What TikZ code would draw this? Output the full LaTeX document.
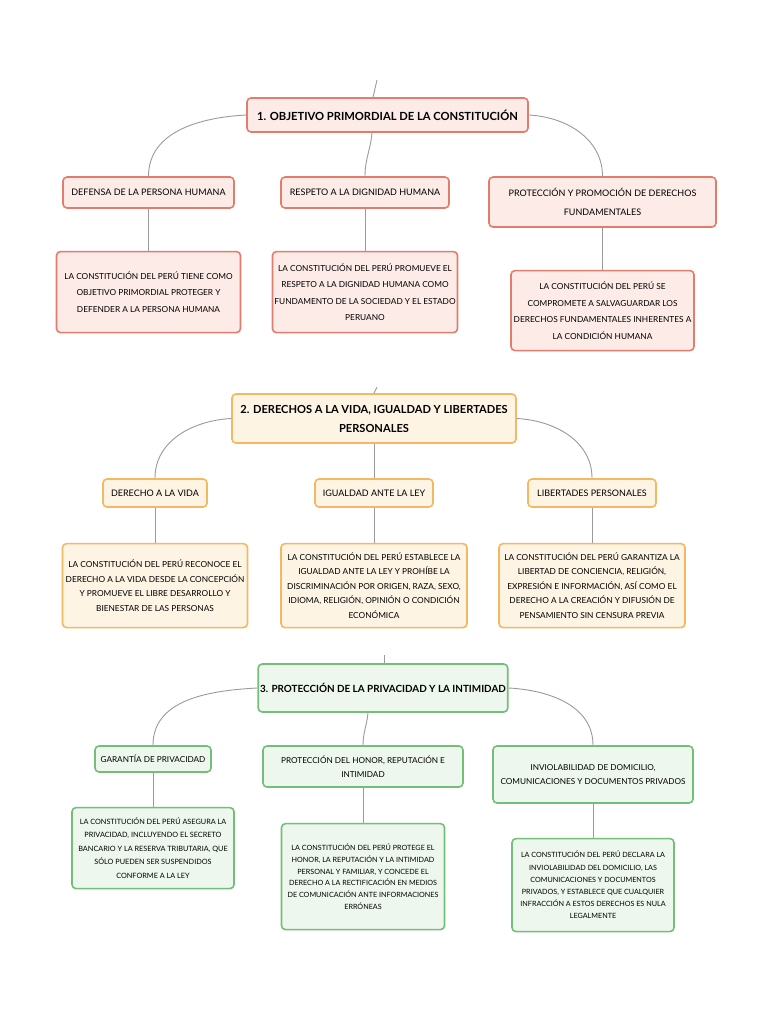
\documentclass[tikz,border=0pt]{standalone}
\usepackage{fontspec}
\setmainfont{Lato}
\usetikzlibrary{
  calc,
  positioning
}
\definecolor{rojoborde}{HTML}{E27D6E}
\definecolor{rojofondo}{HTML}{FCEBE6}
\definecolor{naranjaborde}{HTML}{F3B862}
\definecolor{naranjafondo}{HTML}{FEF4E3}
\definecolor{verdeborde}{HTML}{74BF78}
\definecolor{verdefondo}{HTML}{EEF7EE}
\definecolor{linea}{HTML}{9A9A9A}

\begin{document}
\begin{tikzpicture}[x=1pt,y=-1pt,
    caja/.style={draw,rounded corners=4pt,line width=1.6pt,align=center,inner sep=2pt,text=black},
    rojo/.style={caja,draw=rojoborde,fill=rojofondo},
    naranja/.style={caja,draw=naranjaborde,fill=naranjafondo},
    verde/.style={caja,draw=verdeborde,fill=verdefondo},
    titulo/.style={font=\fontsize{#1}{19}\selectfont\bfseries},
    rama/.style={draw=linea,line width=0.9pt}]
  \useasboundingbox[fill=white] (0,0) rectangle (768,1024);

  % 1. objetivo primordial
  \node[rojo,titulo=11.2,minimum width=281,minimum height=34] (t1) at (387.5,115) {1. OBJETIVO PRIMORDIAL DE LA CONSTITUCIÓN};
  \node[rojo,font=\fontsize{9}{19}\selectfont,minimum width=171,minimum height=31] (c1a) at (148.5,192.5) {DEFENSA DE LA PERSONA HUMANA};
  \node[rojo,font=\fontsize{9}{19}\selectfont,minimum width=168,minimum height=31] (c1b) at (365,192.5) {RESPETO A LA DIGNIDAD HUMANA};
  \node[rojo,font=\fontsize{9}{19}\selectfont,minimum width=227,minimum height=50] (c1c) at (602.5,202) {PROTECCIÓN Y PROMOCIÓN DE DERECHOS\\FUNDAMENTALES};
  \node[rojo,font=\fontsize{8.3}{16.5}\selectfont,minimum width=184,minimum height=81,below=42pt of c1a] (h1a) {LA CONSTITUCIÓN DEL PERÚ TIENE COMO\\OBJETIVO PRIMORDIAL PROTEGER Y\\DEFENDER A LA PERSONA HUMANA};
  \node[rojo,font=\fontsize{8.3}{16.5}\selectfont,minimum width=184,minimum height=81,below=42pt of c1b] (h1b) {LA CONSTITUCIÓN DEL PERÚ PROMUEVE EL\\RESPETO A LA DIGNIDAD HUMANA COMO\\FUNDAMENTO DE LA SOCIEDAD Y EL ESTADO\\PERUANO};
  \node[rojo,font=\fontsize{8.3}{16.5}\selectfont,minimum width=183,minimum height=80,below=42pt of c1c] (h1c) {LA CONSTITUCIÓN DEL PERÚ SE\\COMPROMETE A SALVAGUARDAR LOS\\DERECHOS FUNDAMENTALES INHERENTES A\\LA CONDICIÓN HUMANA};
  \coordinate (s1) at (377,80);

  \draw[rama] (s1) -- ($(t1.north)+(-14.5,0)$);
  \draw[rama] (t1.west) to[out=183,in=90] (c1a.north);
  \draw[rama] ($(t1.south)+(-15.5,0)$) to[out=-95,in=90] (c1b.north);
  \draw[rama] (t1.east) to[out=-3,in=90] (c1c.north);
  \draw[rama] (c1a) -- (h1a);
  \draw[rama] (c1b) -- (h1b);
  \draw[rama] (c1c) -- (h1c);

  % 2. derechos a la vida
  \node[naranja,titulo=11.1,minimum width=284,minimum height=49] (t2) at (374,418.5) {2. DERECHOS A LA VIDA, IGUALDAD Y LIBERTADES\\PERSONALES};
  \node[naranja,font=\fontsize{9}{19}\selectfont,minimum width=104,minimum height=28] (c2a) at (155,493) {DERECHO A LA VIDA};
  \node[naranja,font=\fontsize{9}{19}\selectfont,minimum width=118,minimum height=28] (c2b) at (374,493) {IGUALDAD ANTE LA LEY};
  \node[naranja,font=\fontsize{9}{19}\selectfont,minimum width=128,minimum height=28] (c2c) at (592,493) {LIBERTADES PERSONALES};
  \node[naranja,font=\fontsize{8.3}{14.5}\selectfont,minimum width=185,minimum height=84,below=35pt of c2a] (h2a) {LA CONSTITUCIÓN DEL PERÚ RECONOCE EL\\DERECHO A LA VIDA DESDE LA CONCEPCIÓN\\Y PROMUEVE EL LIBRE DESARROLLO Y\\BIENESTAR DE LAS PERSONAS};
  \node[naranja,font=\fontsize{8.3}{14.5}\selectfont,minimum width=186,minimum height=84,below=35pt of c2b] (h2b) {LA CONSTITUCIÓN DEL PERÚ ESTABLECE LA\\IGUALDAD ANTE LA LEY Y PROHÍBE LA\\DISCRIMINACIÓN POR ORIGEN, RAZA, SEXO,\\IDIOMA, RELIGIÓN, OPINIÓN O CONDICIÓN\\ECONÓMICA};
  \node[naranja,font=\fontsize{8.3}{14.5}\selectfont,minimum width=186,minimum height=84,below=35pt of c2c] (h2c) {LA CONSTITUCIÓN DEL PERÚ GARANTIZA LA\\LIBERTAD DE CONCIENCIA, RELIGIÓN,\\EXPRESIÓN E INFORMACIÓN, ASÍ COMO EL\\DERECHO A LA CREACIÓN Y DIFUSIÓN DE\\PENSAMIENTO SIN CENSURA PREVIA};
  \coordinate (s2) at (377,387);

  \draw[rama] (s2) -- (t2.north);
  \draw[rama] (t2.west) to[out=183,in=90] (c2a.north);
  \draw[rama] (t2) -- (c2b);
  \draw[rama] (t2.east) to[out=-3,in=90] (c2c.north);
  \draw[rama] (c2a) -- (h2a);
  \draw[rama] (c2b) -- (h2b);
  \draw[rama] (c2c) -- (h2c);

  % 3. privacidad e intimidad
  \node[verde,titulo=9.9,minimum width=248,minimum height=48] (t3) at (383,688) {3. PROTECCIÓN DE LA PRIVACIDAD Y LA INTIMIDAD};
  \node[verde,font=\fontsize{8.2}{13.5}\selectfont,minimum width=116,minimum height=26] (c3a) at (153,759) {GARANTÍA DE PRIVACIDAD};
  \node[verde,font=\fontsize{8.2}{13.5}\selectfont,minimum width=200,minimum height=41] (c3b) at (363,766.5) {PROTECCIÓN DEL HONOR, REPUTACIÓN E\\INTIMIDAD};
  \node[verde,font=\fontsize{8.2}{13.5}\selectfont,minimum width=200,minimum height=57] (c3c) at (593,774.5) {INVIOLABILIDAD DE DOMICILIO,\\COMUNICACIONES Y DOCUMENTOS PRIVADOS};
  \node[verde,font=\fontsize{7.3}{13.5}\selectfont,minimum width=162,minimum height=81,below=34pt of c3a] (h3a) {LA CONSTITUCIÓN DEL PERÚ ASEGURA LA\\PRIVACIDAD, INCLUYENDO EL SECRETO\\BANCARIO Y LA RESERVA TRIBUTARIA, QUE\\SÓLO PUEDEN SER SUSPENDIDOS\\CONFORME A LA LEY};
  \node[verde,font=\fontsize{7.2}{11.8}\selectfont,minimum width=163,minimum height=106,below=35pt of c3b] (h3b) {LA CONSTITUCIÓN DEL PERÚ PROTEGE EL\\HONOR, LA REPUTACIÓN Y LA INTIMIDAD\\PERSONAL Y FAMILIAR, Y CONCEDE EL\\DERECHO A LA RECTIFICACIÓN EN MEDIOS\\DE COMUNICACIÓN ANTE INFORMACIONES\\ERRÓNEAS};
  \node[verde,font=\fontsize{7.2}{12.2}\selectfont,minimum width=162,minimum height=93,below=34pt of c3c] (h3c) {LA CONSTITUCIÓN DEL PERÚ DECLARA LA\\INVIOLABILIDAD DEL DOMICILIO, LAS\\COMUNICACIONES Y DOCUMENTOS\\PRIVADOS, Y ESTABLECE QUE CUALQUIER\\INFRACCIÓN A ESTOS DERECHOS ES NULA\\LEGALMENTE};
  \coordinate (s3) at (384,655);

  \draw[rama] (s3) -- ($(t3.north)+(1,0)$);
  \draw[rama] (t3.west) to[out=183,in=90] (c3a.north);
  \draw[rama] ($(t3.south)+(-15,0)$) to[out=-95,in=90] (c3b.north);
  \draw[rama] (t3.east) to[out=-3,in=90] (c3c.north);
  \draw[rama] (c3a) -- (h3a);
  \draw[rama] (c3b) -- (h3b);
  \draw[rama] (c3c) -- (h3c);
\end{tikzpicture}
\end{document}
